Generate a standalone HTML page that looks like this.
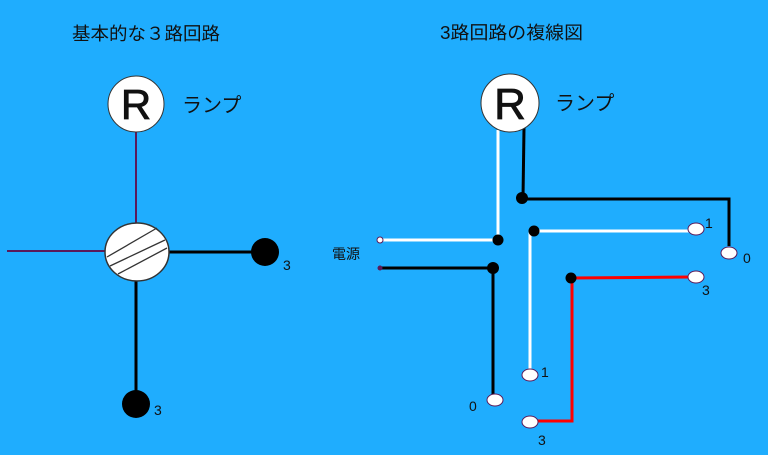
<!DOCTYPE html>
<html><head><meta charset="utf-8"><style>
html,body{margin:0;padding:0;background:#1fadfe;}
svg{display:block;}
text{font-family:"Liberation Sans","Noto Sans CJK JP",sans-serif;fill:#111;}
</style></head><body>
<svg width="768" height="455" viewBox="0 0 768 455" xmlns="http://www.w3.org/2000/svg">
<rect width="768" height="455" fill="#1fadfe"/>
<text x="72" y="40" font-size="18" textLength="148" lengthAdjust="spacingAndGlyphs">基本的な３路回路</text>
<text x="440" y="39" font-size="18" textLength="143" lengthAdjust="spacingAndGlyphs">3路回路の複線図</text>

<!-- left -->
<line x1="136" y1="132" x2="136" y2="225" stroke="#5a1a5a" stroke-width="2"/>
<line x1="7" y1="251" x2="106" y2="251" stroke="#5a1a5a" stroke-width="2"/>
<line x1="168" y1="252" x2="262" y2="252" stroke="#000" stroke-width="3"/>
<line x1="136" y1="281" x2="136" y2="400" stroke="#000" stroke-width="3"/>
<circle cx="136" cy="104" r="28" fill="#fff" stroke="#333" stroke-width="1"/>
<text x="136" y="119" font-size="42" text-anchor="middle" stroke="#111" stroke-width="0.8">R</text>
<text x="182" y="112" font-size="20">ランプ</text>
<ellipse cx="137" cy="252" rx="32" ry="29" fill="#fff" stroke="#333" stroke-width="1.5"/>
<line x1="107" y1="257" x2="157" y2="228" stroke="#333" stroke-width="1.3"/>
<line x1="110" y1="266" x2="165" y2="240" stroke="#333" stroke-width="1.3"/>
<line x1="118" y1="274" x2="167" y2="248" stroke="#333" stroke-width="1.3"/>
<circle cx="265" cy="252" r="14" fill="#000"/>
<text x="283" y="270" font-size="14">3</text>
<circle cx="136" cy="404" r="14" fill="#000"/>
<text x="154" y="415" font-size="14">3</text>

<!-- right -->
<line x1="498" y1="130" x2="498" y2="240" stroke="#fff" stroke-width="3"/>
<line x1="524" y1="128" x2="523" y2="198" stroke="#000" stroke-width="3"/>
<polyline points="522,199 729,199 729,246" fill="none" stroke="#000" stroke-width="3"/>
<polyline points="534,231 690,231" fill="none" stroke="#fff" stroke-width="3"/>
<line x1="530" y1="231" x2="530" y2="369" stroke="#fff" stroke-width="3"/>
<line x1="381" y1="240" x2="498" y2="240" stroke="#fff" stroke-width="3"/>
<line x1="381" y1="268" x2="493" y2="268" stroke="#000" stroke-width="3"/>
<line x1="493" y1="268" x2="493" y2="395" stroke="#000" stroke-width="3"/>
<polyline points="571,278 690,277" fill="none" stroke="#f00" stroke-width="3"/>
<polyline points="572,278 572,421 535,421" fill="none" stroke="#f00" stroke-width="3"/>
<circle cx="510" cy="103" r="29" fill="#fff" stroke="#333" stroke-width="1"/>
<text x="510" y="119" font-size="44" text-anchor="middle" stroke="#111" stroke-width="0.8">R</text>
<text x="555" y="110" font-size="20">ランプ</text>
<circle cx="522" cy="198" r="6" fill="#000"/>
<circle cx="534" cy="231" r="5.5" fill="#000"/>
<circle cx="498" cy="240" r="5.5" fill="#000"/>
<circle cx="493" cy="268" r="6" fill="#000"/>
<circle cx="571" cy="278" r="5.5" fill="#000"/>
<ellipse cx="380" cy="240" rx="3" ry="3" fill="#fff" stroke="#5a1a5a"/>
<circle cx="380" cy="268" r="2.5" fill="#5a1a5a"/>
<g fill="#fff" stroke="#5a1a5a" stroke-width="1">
<ellipse cx="696" cy="229" rx="8" ry="6"/>
<ellipse cx="729" cy="253" rx="8" ry="6"/>
<ellipse cx="696" cy="277" rx="8" ry="6"/>
<ellipse cx="530" cy="375" rx="8" ry="6"/>
<ellipse cx="495" cy="400" rx="8" ry="6"/>
<ellipse cx="530" cy="422" rx="8" ry="6"/>
</g>
<text x="705" y="228" font-size="14">1</text>
<text x="743" y="263" font-size="14">0</text>
<text x="702" y="295" font-size="14">3</text>
<text x="541" y="377" font-size="14">1</text>
<text x="469" y="411" font-size="14">0</text>
<text x="538" y="445" font-size="14">3</text>
<text x="332" y="259" font-size="14">電源</text>
</svg>
</body></html>
